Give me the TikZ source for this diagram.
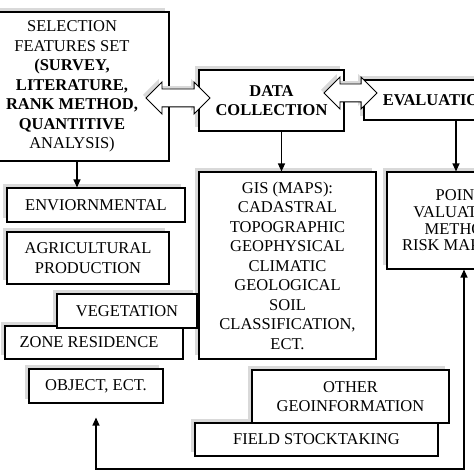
\documentclass[tikz,border=0pt]{standalone}
\usepackage{fontspec}
\setmainfont{Liberation Serif}
\usetikzlibrary{arrows.meta,shapes.arrows,shadows}
\tikzset{
  box/.style={draw, fill=white, line width=1.1pt, inner sep=0pt, align=center,
    font=\fontsize{16.5}{19.5}\selectfont,
    drop shadow={shadow xshift=-4pt, shadow yshift=4pt, fill=black!15, opacity=1}},
  hollow/.style={double arrow, draw, fill=white, line width=0.9pt,
    inner xsep=0pt, inner ysep=8.5pt, double arrow head extend=7pt,
    drop shadow={shadow xshift=-3pt, shadow yshift=3pt, fill=black!15, opacity=1}},
  arr/.style={-{Triangle[length=8pt,width=7pt]}, line width=1.2pt},
  dblarr/.style={{Triangle[length=8pt,width=7pt]}-{Triangle[length=8pt,width=7pt]}, line width=1.2pt},
}

\begin{document}
\begin{tikzpicture}[x=1pt,y=1pt]
  \useasboundingbox (0,0) rectangle (474,474);
  \clip (0,0) rectangle (474,474);

  % top row
  \node[box, minimum width=194pt, minimum height=149pt] (sel) at (72,387.5)
    {SELECTION\\FEATURES SET\\\textbf{(SURVEY,}\\\textbf{LITERATURE,}\\\textbf{RANK METHOD,}\\\textbf{QUANTITIVE}\\ANALYSIS)};
  \node[box, minimum width=145pt, minimum height=61pt] (data) at (271.5,373.5)
    {\textbf{DATA}\\\textbf{COLLECTION}};
  \node[box, minimum width=146pt, minimum height=40pt] (eval) at (437,374)
    {\textbf{EVALUATION}};
  \node[hollow, minimum height=64pt] (selarr) at (178,376) {};
  \node[hollow, minimum height=53pt] (evalarr) at (350.5,381) {};

  % middle column and right column
  \node[box, minimum width=177pt, minimum height=187pt] (gis) at (287.5,208.5)
    {GIS (MAPS):\\CADASTRAL\\TOPOGRAPHIC\\GEOPHYSICAL\\CLIMATIC\\GEOLOGICAL\\SOIL\\CLASSIFICATION,\\ECT.};
  \node[box, minimum width=146pt, minimum height=97pt,
    font=\fontsize{16.5}{16.7}\selectfont] (point) at (460,253.5)
    {POINT\\VALUATION\\METHOD\\RISK MAPPING};

  % left column
  \node[box, minimum width=178pt, minimum height=34pt] (env) at (96,269) {ENVIORNMENTAL};
  \node[box, minimum width=162pt, minimum height=52pt] (agri) at (88,216) {AGRICULTURAL\\PRODUCTION};
  \node[box, minimum width=178pt, minimum height=33pt] (zone) at (94,131.5) {ZONE RESIDENCE\hspace{10pt}};
  \node[box, minimum width=140pt, minimum height=34pt] (veg) at (127,163) {VEGETATION};
  \node[box, minimum width=134pt, minimum height=34pt] (obj) at (96,88) {OBJECT, ECT.};

  % bottom
  \node[box, minimum width=243pt, minimum height=33pt] (field) at (316.5,34.5) {FIELD STOCKTAKING};
  \node[box, minimum width=197pt, minimum height=53pt] (other) at (350.5,77.5) {OTHER\\GEOINFORMATION};

  % connectors
  \coordinate (loop) at (464,5);
  \draw[arr] ([xshift=5pt]sel.south) -- ([xshift=5pt]sel.south |- env.north);
  \draw[arr] ([xshift=10pt]data.south) -- ([xshift=10pt]data.south |- gis.north);
  \draw[arr] ([xshift=19pt]eval.south) -- ([xshift=19pt]eval.south |- point.north);
  \draw[dblarr, shorten <=14pt] (obj.south) |- (loop) -- (loop |- point.south);
\end{tikzpicture}
\end{document}
